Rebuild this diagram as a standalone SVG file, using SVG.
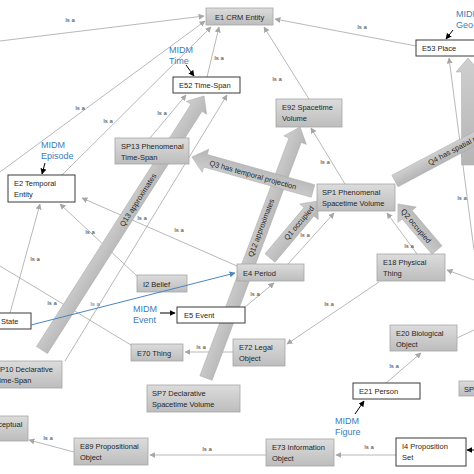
<svg xmlns="http://www.w3.org/2000/svg" width="474" height="474" viewBox="0 0 474 474">
<defs>
<linearGradient id="gg" x1="0" y1="0" x2="0" y2="1">
<stop offset="0" stop-color="#dcdcdc"/><stop offset="1" stop-color="#bdbdbd"/>
</linearGradient>
<linearGradient id="ga" x1="0" y1="0" x2="0" y2="1">
<stop offset="0" stop-color="#cfcfcf"/><stop offset="1" stop-color="#b5b5b5"/>
</linearGradient>
<marker id="ah" viewBox="0 0 10 10" refX="9" refY="5" markerWidth="6" markerHeight="6" markerUnits="userSpaceOnUse" orient="auto">
<path d="M0,0 L10,5 L0,10 z" fill="#a6a6a6"/>
</marker>
<marker id="ab" viewBox="0 0 10 10" refX="9" refY="5" markerWidth="6" markerHeight="6" markerUnits="userSpaceOnUse" orient="auto">
<path d="M0,0 L10,5 L0,10 z" fill="#4a86c0"/>
</marker>
<marker id="ak" viewBox="0 0 10 10" refX="9" refY="5" markerWidth="6" markerHeight="6" markerUnits="userSpaceOnUse" orient="auto">
<path d="M0,0 L10,5 L0,10 z" fill="#000"/>
</marker>
</defs>
<style>
text{font-family:"Liberation Sans",Arial,sans-serif;}
.isa{stroke:#a6a6a6;stroke-width:0.8;fill:none;marker-end:url(#ah);}
.isn{stroke:#a6a6a6;stroke-width:0.8;fill:none;}
.lb{font-size:6px;fill:#404040;text-anchor:middle;}
.blk{fill:url(#ga);stroke:#a8a8a8;stroke-width:0.5;}
.bt{font-size:7.5px;fill:#262626;text-anchor:middle;}
.g{fill:url(#gg);stroke:#a5a5a5;stroke-width:0.8;}
.w{fill:#fff;stroke:#3a3a3a;stroke-width:1;}
.t{font-size:7.5px;fill:#262626;}
.m{font-size:9px;fill:#3a7dc0;}
.ka{stroke:#000;stroke-width:1;marker-end:url(#ak);}
</style>
<rect width="474" height="474" fill="#fff"/>

<g id="connectors">
<line class="isa" x1="0" y1="41" x2="204" y2="16"/><text class="lb" x="70" y="22">Is a</text>
<line class="isa" x1="0" y1="172" x2="205" y2="21"/><text class="lb" x="80" y="110">Is a</text>
<line class="isa" x1="62" y1="175" x2="211" y2="27"/><text class="lb" x="108" y="123">Is a</text>
<line class="isa" x1="207" y1="77" x2="219" y2="27"/><text class="lb" x="219" y="60">Is a</text>
<line class="isa" x1="309" y1="99" x2="264" y2="27"/><text class="lb" x="277" y="81">Is a</text>
<line class="isa" x1="416" y1="46" x2="275" y2="19"/><text class="lb" x="362" y="29">Is a</text>
<line class="isa" x1="150" y1="138" x2="186" y2="95"/><text class="lb" x="162" y="115">Is a</text>
<line class="isa" x1="65" y1="361" x2="227" y2="95"/><text class="lb" x="142" y="220">Is a</text>
<line class="isa" x1="345" y1="184" x2="311" y2="128"/><text class="lb" x="325" y="164">Is a</text>
<line class="isa" x1="237" y1="266" x2="82" y2="198"/><text class="lb" x="179" y="232">Is a</text>
<line class="isa" x1="288" y1="264" x2="334" y2="213"/><text class="lb" x="305" y="237">Is a</text>
<line class="isa" x1="245" y1="307" x2="274" y2="283"/><text class="lb" x="255" y="296">Is a</text>
<line class="isa" x1="417" y1="254" x2="387" y2="213"/><text class="lb" x="409" y="248">Is a</text>
<line class="isa" x1="379" y1="282" x2="287" y2="344"/><text class="lb" x="329" y="306">Is a</text>
<line class="isa" x1="386" y1="383" x2="421" y2="353"/><text class="lb" x="394" y="368">Is a</text>
<line class="isn" x1="457" y1="338" x2="474" y2="330"/>
<line class="isa" x1="474" y1="280" x2="447" y2="270"/>
<line class="isa" x1="474" y1="250" x2="449" y2="58"/><text class="lb" x="462" y="200">Is a</text>
<line class="isa" x1="137" y1="276" x2="60" y2="204"/><text class="lb" x="90" y="234">Is a</text>
<line class="isa" x1="10" y1="313" x2="40" y2="204"/><text class="lb" x="35" y="261">Is a</text>
<line class="isn" x1="131" y1="345" x2="0" y2="266"/><text class="lb" x="52" y="305">Is a</text>
<line class="isa" x1="233" y1="352" x2="185" y2="352"/><text class="lb" x="201" y="349">Is a</text>
<line class="isa" x1="266" y1="455" x2="150" y2="455"/><text class="lb" x="207" y="451">Is a</text>
<line class="isa" x1="396" y1="455" x2="336" y2="455"/><text class="lb" x="369" y="449">Is a</text>
<line class="isa" x1="74" y1="452" x2="29" y2="440"/><text class="lb" x="48" y="440">Is a</text>
</g>

<g id="block-arrows">
<polygon class="blk" transform="translate(42,350) rotate(-57.47)" points="0,-6.5 287.3,-6.5 287.3,-12 301.3,0 287.3,12 287.3,6.5 0,6.5"/>
<text class="bt" transform="translate(138,200) rotate(-57.47)" y="2.6">Q13 approximates</text>
<polygon class="blk" transform="translate(206,378) rotate(-69.46)" points="0,-6.5 254,-6.5 254,-12 268,0 254,12 254,6.5 0,6.5"/>
<text class="bt" transform="translate(261,228) rotate(-69.46)" y="2.6">Q12 approximates</text>
<polygon class="blk" transform="translate(313,191) rotate(-164.31)" points="0,-6.5 111.7,-6.5 111.7,-12 125.7,0 111.7,12 111.7,6.5 0,6.5"/>
<text class="bt" transform="translate(253,175) rotate(15.69)" y="2.6">Q3 has temporal projection</text>
<polygon class="blk" transform="translate(270,258) rotate(-49.9)" points="0,-6.5 60.5,-6.5 60.5,-12 74.5,0 60.5,12 60.5,6.5 0,6.5"/>
<text class="bt" transform="translate(299,223) rotate(-49.9)" y="2.6">Q1 occupied</text>
<polygon class="blk" transform="translate(437,250) rotate(-130.3)" points="0,-6.5 46.3,-6.5 46.3,-12 60.3,0 46.3,12 46.3,6.5 0,6.5"/>
<text class="bt" transform="translate(416,226) rotate(49.7)" y="2.6">Q2 occupied</text>
<polygon class="blk" points="461.5,165 461.5,72 456,72 468,58 480,72 474.5,72 474.5,165"/>
<polygon class="blk" transform="translate(395,181) rotate(-28)" points="0,-6.5 110,-6.5 110,6.5 0,6.5"/>
<text class="bt" transform="translate(395,181) rotate(-28)" x="38" y="2.6" style="text-anchor:start">Q4 has spatial projection</text>
</g>

<g id="E1"><rect class="g" x="206" y="8" width="67" height="17"/><text class="t" x="215" y="19.5">E1 CRM Entity</text></g>
<g id="E52"><rect class="w" x="173" y="77" width="67" height="16"/><text class="t" x="179" y="88">E52 Time-Span</text></g>
<g id="E92"><rect class="g" x="276" y="99" width="66" height="28"/><text class="t" x="282" y="110">E92 Spacetime</text><text class="t" x="282" y="121">Volume</text></g>
<g id="E53"><rect class="w" x="416" y="40" width="62" height="16"/><text class="t" x="422" y="51">E53 Place</text></g>
<g id="SP13"><rect class="g" x="115" y="138" width="74" height="26"/><text class="t" x="121" y="149">SP13 Phenomenal</text><text class="t" x="121" y="160">Time-Span</text></g>
<g id="E2"><rect class="w" x="8" y="175" width="67" height="27"/><text class="t" x="14" y="186">E2 Temporal</text><text class="t" x="14" y="197">Entity</text></g>
<g id="SP1"><rect class="g" x="317" y="184" width="78" height="27"/><text class="t" x="322" y="195">SP1 Phenomenal</text><text class="t" x="322" y="206">Spacetime Volume</text></g>
<g id="E18"><rect class="g" x="377" y="254" width="68" height="27"/><text class="t" x="383" y="265">E18 Physical</text><text class="t" x="383" y="276">Thing</text></g>
<g id="E4"><rect class="g" x="237" y="264" width="67" height="17"/><text class="t" x="243" y="275.5">E4 Period</text></g>
<g id="I2"><rect class="g" x="137" y="275" width="50" height="17"/><text class="t" x="143" y="286.5">I2 Belief</text></g>
<g id="E5"><rect class="w" x="177" y="307" width="68" height="16"/><text class="t" x="184" y="318">E5 Event</text></g>
<g id="E3"><rect class="w" x="-10" y="313" width="41" height="16"/><text class="t" x="-44" y="324">E3 Condition State</text></g>
<g id="E70"><rect class="g" x="131" y="344" width="52" height="17"/><text class="t" x="137" y="355.5">E70 Thing</text></g>
<g id="E72"><rect class="g" x="233" y="339" width="52" height="27"/><text class="t" x="239" y="350">E72 Legal</text><text class="t" x="239" y="361">Object</text></g>
<g id="SP10"><rect class="g" x="-12" y="361" width="74" height="27"/><text class="t" x="-5" y="372">SP10 Declarative</text><text class="t" x="-5" y="383">Time-Span</text></g>
<g id="SP7"><rect class="g" x="147" y="385" width="93" height="27"/><text class="t" x="152" y="396">SP7 Declarative</text><text class="t" x="152" y="407">Spacetime Volume</text></g>
<g id="E20"><rect class="g" x="390" y="325" width="67" height="26"/><text class="t" x="396" y="336">E20 Biological</text><text class="t" x="396" y="347">Object</text></g>
<g id="E21"><rect class="w" x="353" y="383" width="67" height="16"/><text class="t" x="359" y="394">E21 Person</text></g>
<g id="SPx"><rect class="g" x="459" y="381" width="22" height="15"/><text class="t" x="464" y="391.5">SP</text></g>
<g id="I4"><rect class="w" x="396" y="438" width="70" height="28"/><text class="t" x="402" y="449">I4 Proposition</text><text class="t" x="402" y="460">Set</text></g>
<g id="E73"><rect class="g" x="266" y="439" width="68" height="27"/><text class="t" x="272" y="450">E73 Information</text><text class="t" x="272" y="461">Object</text></g>
<g id="E89"><rect class="g" x="74" y="438" width="74" height="27"/><text class="t" x="80" y="449">E89 Propositional</text><text class="t" x="80" y="460">Object</text></g>
<g id="E28"><rect class="g" x="-12" y="416" width="40" height="25"/><text class="t" x="-31" y="427">E28 Conceptual</text></g>

<g id="midm">
<text class="m" x="169" y="53">MIDM</text><text class="m" x="169" y="64">Time</text>
<line class="ka" x1="186" y1="65" x2="194" y2="76"/>
<text class="m" x="41" y="148">MIDM</text><text class="m" x="41" y="159">Episode</text>
<line class="ka" x1="45" y1="163" x2="42" y2="174"/>
<text class="m" x="133" y="312">MIDM</text><text class="m" x="133" y="323">Event</text>
<line class="ka" x1="160" y1="313" x2="175" y2="313"/>
<text class="m" x="335" y="424">MIDM</text><text class="m" x="335" y="435">Figure</text>
<line class="ka" x1="355" y1="414" x2="364" y2="401"/>
<text class="m" x="456" y="17">MIDM</text><text class="m" x="456" y="28">Geo-</text>
<line class="ka" x1="453" y1="30" x2="446" y2="39"/>
<line class="ka" x1="476" y1="450" x2="467" y2="450"/>
</g>

<g id="blue-link">
<line x1="31" y1="325" x2="235" y2="273" stroke="#4a86c0" stroke-width="1" marker-end="url(#ab)"/>
<text class="lb" x="95" y="306" style="fill:#4a86c0">Is a</text>
</g>
</svg>
